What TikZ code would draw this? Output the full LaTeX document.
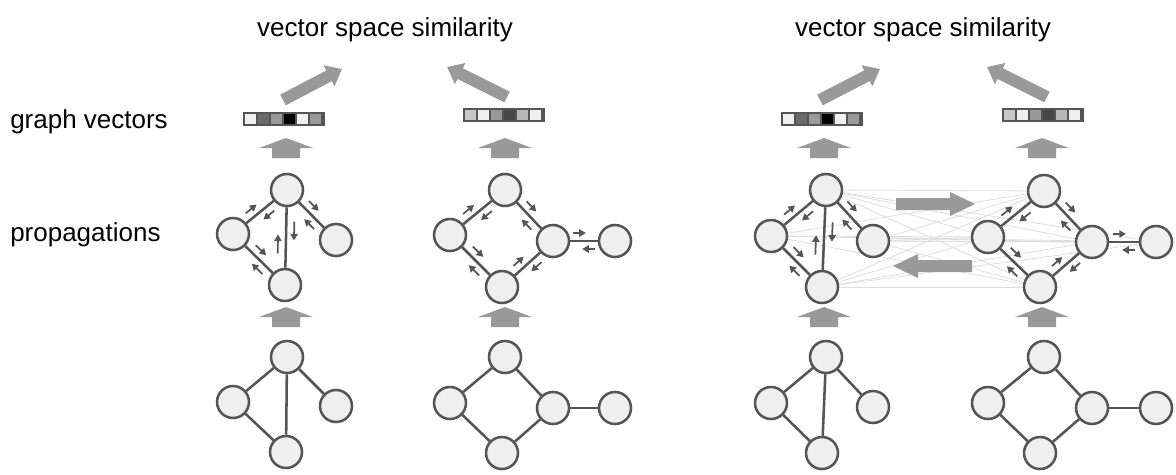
\documentclass[tikz,border=0pt]{standalone}
\usepackage{fontspec}
\setmainfont{Liberation Sans}
\usetikzlibrary{calc,arrows.meta}
\definecolor{dk}{HTML}{555555}
\definecolor{nf}{HTML}{EFEFEF}
\definecolor{bg}{HTML}{999999}
\definecolor{lg}{HTML}{DDDDDD}
\tikzset{
 gn/.style={circle,fill=nf,draw=dk,line width=1.9pt,minimum size=24pt,inner sep=0pt},
 ge/.style={draw=dk,line width=1.9pt},
 sa/.style={draw=dk,line width=1.3pt,-{Triangle[length=5pt,width=5.5pt]}},
 big/.style={fill=bg},
 bigline/.style={draw=bg,line width=9pt,-{Triangle[length=11pt,width=17pt]}},
 lab/.style={font=\fontsize{19.5}{22}\selectfont,inner sep=0pt},
 vec/.style={fill=dk,minimum width=61.5pt,minimum height=11pt,inner sep=0pt}
}
\newcommand{\marr}[2]{%
 \draw[sa] ($(#1)!0.33!(#2)!6pt!90:(#2)$) -- ($(#1)!0.53!(#2)!6pt!90:(#2)$);
 \draw[sa] ($(#2)!0.33!(#1)!6pt!90:(#1)$) -- ($(#2)!0.53!(#1)!6pt!90:(#1)$);}
\newcommand{\uparr}[2]{%
 \fill[big] (#1-27,#2+10) -- (#1,#2) -- (#1+27,#2+10) -- (#1+14,#2+10) -- (#1+14,#2+20) -- (#1-14,#2+20) -- (#1-14,#2+10) -- cycle;}
\newcommand{\vecnode}[8]{%
 \node[vec] (#1) at (#2) {};
 \foreach \c [count=\i] in {#3,#4,#5,#6,#7,#8} {
  \fill[\c] ($(#1.west)+(2.3+\i*13-13,-5)$) rectangle ++(10.5,10);
 }}
\begin{document}
\begin{tikzpicture}[x=0.75pt,y=-0.75pt]
\useasboundingbox (0,0) rectangle (1176,474);
\node[lab] (t1) at (385,30) {vector space similarity};
\node[lab] (t2) at (923,30) {vector space similarity};
\node[lab,anchor=west] (l1) at (10,122) {graph vectors};
\node[lab,anchor=west] (l2) at (10,235) {propagations};

% light bipartite lines (drawn first)
\foreach \p in {c1,c2,c3,c4} \foreach \q in {d1,d2,d3,d4,d5} {
  \coordinate (tmp) at (0,0);
}
% graph 3 & 4 coordinates
\coordinate (c1) at (826,190); \coordinate (c2) at (771,236); \coordinate (c3) at (873,241); \coordinate (c4) at (822,287);
\coordinate (d1) at (1044,191); \coordinate (d2) at (988,237); \coordinate (d3) at (1092,242); \coordinate (d4) at (1040,287); \coordinate (d5) at (1156,242);
\foreach \p in {c1,c2,c3,c4} \foreach \q in {d1,d2,d3,d4,d5} {
  \draw[lg,line width=0.6pt] (\p) -- (\q);
}
% big horizontal arrows
\fill[big] (896,198) -- (950,198) -- (950,192) -- (975,204) -- (950,216) -- (950,210) -- (896,210) -- cycle;
\fill[big] (972,260) -- (918,260) -- (918,254) -- (893,266) -- (918,278) -- (918,272) -- (972,272) -- cycle;

% graph 1 (propagation)
\node[gn] (a1) at (287,190) {}; \node[gn] (a2) at (233,234) {}; \node[gn] (a3) at (336,240) {}; \node[gn] (a4) at (285,285) {};
% graph 1 bottom
\node[gn] (b1) at (287,357) {}; \node[gn] (b2) at (233,402) {}; \node[gn] (b3) at (336,406) {}; \node[gn] (b4) at (286,452) {};
% graph 2
\node[gn] (e1) at (505,190) {}; \node[gn] (e2) at (450,235) {}; \node[gn] (e3) at (553,241) {}; \node[gn] (e4) at (502,287) {}; \node[gn] (e5) at (615,241) {};
\node[gn] (f1) at (505,357) {}; \node[gn] (f2) at (450,403) {}; \node[gn] (f3) at (553,408) {}; \node[gn] (f4) at (502,453) {}; \node[gn] (f5) at (615,408) {};
% graph 3
\node[gn] (g1) at (c1) {}; \node[gn] (g2) at (c2) {}; \node[gn] (g3) at (c3) {}; \node[gn] (g4) at (c4) {};
\node[gn] (h1) at (826,357) {}; \node[gn] (h2) at (771,403) {}; \node[gn] (h3) at (873,407) {}; \node[gn] (h4) at (822,453) {};
% graph 4
\node[gn] (k1) at (d1) {}; \node[gn] (k2) at (d2) {}; \node[gn] (k3) at (d3) {}; \node[gn] (k4) at (d4) {}; \node[gn] (k5) at (d5) {};
\node[gn] (m1) at (1044,357) {}; \node[gn] (m2) at (988,403) {}; \node[gn] (m3) at (1092,408) {}; \node[gn] (m4) at (1040,453) {}; \node[gn] (m5) at (1156,408) {};

\foreach \x in {a,b,g,h} {
  \draw[ge] (\x1) -- (\x2); \draw[ge] (\x1) -- (\x3); \draw[ge] (\x1) -- (\x4); \draw[ge] (\x2) -- (\x4);
}
\foreach \x in {e,f,k,m} {
  \draw[ge] (\x1) -- (\x2); \draw[ge] (\x1) -- (\x3); \draw[ge] (\x2) -- (\x4); \draw[ge] (\x3) -- (\x4); \draw[ge] (\x3) -- (\x5);
}
% message arrows
\marr{a2}{a1}\marr{a1}{a3}\marr{a1}{a4}\marr{a2}{a4}
\marr{g2}{g1}\marr{g1}{g3}\marr{g1}{g4}\marr{g2}{g4}
\marr{e2}{e1}\marr{e1}{e3}\marr{e2}{e4}\marr{e4}{e3}\marr{e3}{e5}
\marr{k2}{k1}\marr{k1}{k3}\marr{k2}{k4}\marr{k4}{k3}\marr{k3}{k5}

% up arrows
\uparr{286}{138}\uparr{286}{307}
\uparr{505}{138}\uparr{505}{307}
\uparr{824}{138}\uparr{824}{307}
\uparr{1042}{138}\uparr{1042}{307}

% vectors
\vecnode{v1}{284,119}{nf}{black!58}{bg}{black}{nf}{bg}
\vecnode{v2}{504,115}{black!22}{nf}{bg}{black!72}{black!28}{nf}
\vecnode{v3}{822,119}{nf}{black!58}{bg}{black}{nf}{bg}
\vecnode{v4}{1043,115}{black!22}{nf}{bg}{black!72}{black!28}{nf}

% diagonal arrows
\draw[bigline] (283,100) -- (342,69);
\draw[bigline] (507,97) -- (447,67);
\draw[bigline] (820,100) -- (880,69);
\draw[bigline] (1047,97) -- (987,67);
\end{tikzpicture}
\end{document}
